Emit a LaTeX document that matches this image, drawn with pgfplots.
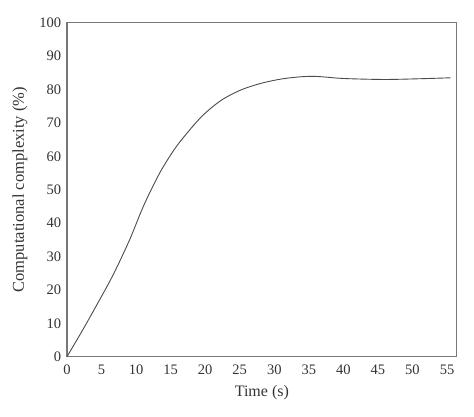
\documentclass[border=0pt]{standalone}
\usepackage{fontspec}
\setmainfont{Liberation Serif}
\usepackage{pgfplots}
\pgfplotsset{compat=1.18}
\definecolor{axisgray}{RGB}{120,120,120}
\definecolor{curvegray}{RGB}{75,75,75}
\begin{document}
\begin{tikzpicture}
\useasboundingbox (-67pt,-60.3pt) rectangle (407pt,356.7pt);
\begin{axis}[
    at={(0pt,0pt)}, anchor=south west,
    width=389.7pt, height=334pt, scale only axis,
    xmin=0, xmax=56.4,
    ymin=0, ymax=100,
    xtick={0,5,...,55},
    ytick={0,10,...,100},
    major tick length=0pt,
    axis line style={draw=axisgray, line width=1.2pt},
    /pgf/number format/assume math mode=true,
    tick label style={font=\fontsize{14.5}{14.5}\selectfont, text=black!80},
    xticklabel style={anchor=center, yshift=-13.3pt},
    yticklabel style={anchor=east, xshift=-2.3pt},
    label style={text=black!80},
    xlabel={Time (s)},
    ylabel={Computational complexity (\%)},
    xlabel style={font=\fontsize{16}{16}\selectfont, at={(axis description cs:0.5,0)}, anchor=center, yshift=-36pt},
    ylabel style={font=\fontsize{16.5}{16.5}\selectfont, at={(axis description cs:0,0.5)}, anchor=center, yshift=47pt},
]
% curve
\addplot[curvegray, line width=0.9pt, smooth, tension=0.5] coordinates {
    (0,0) (2.3,8.1) (4.2,15.1) (6.6,24.2) (9.0,34.7) (10.9,44.3)
    (12.4,50.9) (13.8,56.4) (16.0,63.4) (19.3,71.5) (22.2,76.6)
    (25.1,79.8) (28.0,81.8) (30.9,83.1) (33.8,83.8) (36.2,83.9)
    (40.0,83.3) (45.8,83.0) (50.7,83.2) (55.5,83.5)
};
\end{axis}
\end{tikzpicture}
\end{document}
